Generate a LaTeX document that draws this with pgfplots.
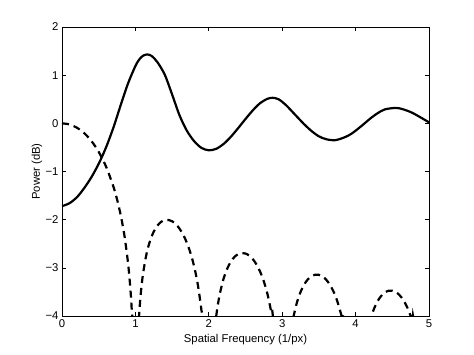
\documentclass[border=0pt]{standalone}
\usepackage{fontspec}
\setmainfont{Liberation Sans}
\usepackage{pgfplots}
\pgfplotsset{compat=1.18}
\begin{document}
\begin{tikzpicture}[font=\fontsize{11.3}{13}\selectfont]
\begin{axis}[
  scale only axis, width=367pt, height=289pt,
  xmin=0, xmax=5, ymin=-4, ymax=2,
  xtick={0,1,2,3,4,5}, xticklabels={0,1,2,3,4,5},
  ytick={-4,-3,-2,-1,0,1,2}, yticklabels={−4,−3,−2,−1,0,1,2},
  tick align=inside, major tick length=4pt,
  tick style={black, line width=0.6pt},
  axis line style={black, line width=0.8pt},
  xlabel={Spatial Frequency (1/px)}, ylabel={Power (dB)},
  xlabel style={at={(axis description cs:0.5,-0.09)}, anchor=base},
  ylabel style={at={(axis description cs:-0.06,0.5)}, anchor=base},
  clip=true,
]
\addplot[black, line width=2.2pt, smooth] coordinates {
(0,-1.72) (0.1,-1.66) (0.2,-1.54) (0.3,-1.35) (0.4,-1.12) (0.5,-0.84)
(0.6,-0.50) (0.7,-0.09) (0.8,0.38) (0.9,0.83) (1.0,1.19) (1.05,1.32)
(1.1,1.40) (1.16,1.43) (1.22,1.40) (1.3,1.27) (1.4,1.01) (1.5,0.60)
(1.6,0.17) (1.7,-0.15) (1.8,-0.37) (1.9,-0.51) (2.0,-0.56) (2.1,-0.53)
(2.2,-0.43) (2.3,-0.28) (2.4,-0.10) (2.5,0.09) (2.6,0.27) (2.7,0.42)
(2.8,0.51) (2.87,0.53) (2.95,0.50) (3.05,0.38) (3.2,0.14) (3.3,-0.02)
(3.4,-0.16) (3.5,-0.27) (3.6,-0.33) (3.72,-0.35) (3.85,-0.29) (3.95,-0.21)
(4.1,-0.03) (4.2,0.10) (4.3,0.21) (4.4,0.29) (4.55,0.32) (4.65,0.29)
(4.77,0.22) (4.9,0.11) (5.0,0.02)
};
\addplot[black, line width=2.2pt, dash pattern=on 7pt off 5pt, smooth] coordinates {
(0,0) (0.1,-0.022) (0.2,-0.088) (0.3,-0.200) (0.4,-0.365) (0.5,-0.592)
(0.6,-0.897) (0.7,-1.312) (0.75,-1.579) (0.8,-1.906) (0.85,-2.324)
(0.9,-2.904) (0.93,-3.403) (0.95,-3.867) (0.97,-4.561) (1.0,-8)
(1.03,-4.64) (1.05,-3.998) (1.07,-3.587) (1.1,-3.167) (1.15,-2.720)
(1.2,-2.437) (1.25,-2.249) (1.3,-2.124) (1.35,-2.046) (1.4,-2.009)
(1.45,-2.005) (1.5,-2.033) (1.55,-2.093) (1.6,-2.184) (1.65,-2.310)
(1.7,-2.475) (1.75,-2.690) (1.8,-2.969) (1.85,-3.344) (1.9,-3.884)
(1.93,-4.361) (2.0,-8)
(2.07,-4.453) (2.1,-4.015) (2.13,-3.704) (2.15,-3.541) (2.2,-3.232)
(2.25,-3.020) (2.3,-2.872) (2.35,-2.773) (2.4,-2.715) (2.45,-2.693)
(2.5,-2.703) (2.55,-2.745) (2.6,-2.820) (2.65,-2.931) (2.7,-3.082)
(2.75,-3.283) (2.8,-3.549) (2.85,-3.911) (2.88,-4.199) (3.0,-8)
(3.12,-4.304) (3.15,-4.042) (3.2,-3.724) (3.25,-3.502) (3.3,-3.345)
(3.35,-3.238) (3.4,-3.172) (3.45,-3.142) (3.5,-3.145) (3.55,-3.179)
(3.6,-3.247) (3.65,-3.351) (3.7,-3.495) (3.75,-3.690) (3.8,-3.949)
(3.82,-4.077) (3.85,-4.305) (4.0,-8)
(4.15,-4.404) (4.2,-4.080) (4.22,-3.980) (4.25,-3.854) (4.3,-3.692)
(4.35,-3.581) (4.4,-3.511) (4.45,-3.476) (4.5,-3.474) (4.55,-3.505)
(4.6,-3.569) (4.65,-3.669) (4.7,-3.809) (4.75,-4.000) (4.78,-4.144)
(4.8,-4.256) (5.0,-8)
};
\end{axis}
\pgfresetboundingbox
\path[use as bounding box] (current axis.south west) ++(-62pt,-39pt) rectangle ([xshift=45pt,yshift=27pt]current axis.north east);
\end{tikzpicture}
\end{document}
